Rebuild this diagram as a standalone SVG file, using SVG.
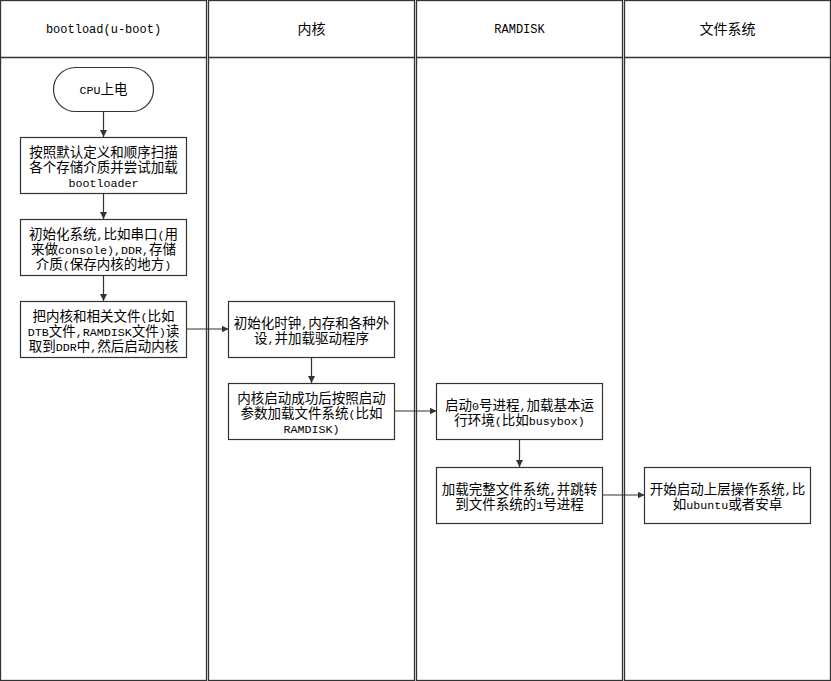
<svg xmlns="http://www.w3.org/2000/svg" width="831" height="681" viewBox="0 0 831 681">
<style>
.lane{fill:#fff;stroke:#333;stroke-width:1.3}
.box{fill:#fff;stroke:#333;stroke-width:1.2}
.t{font-family:"Noto Sans CJK SC","Noto Sans CJK TC",sans-serif;font-size:13.5px;fill:#000;text-anchor:middle}
.m{font-family:"Liberation Mono",monospace;font-size:11.7px}
.h{font-family:"Liberation Mono",monospace;font-size:12px;fill:#000;text-anchor:middle}
.hc{font-family:"Noto Sans CJK SC",sans-serif;font-size:14px;fill:#000;text-anchor:middle}
.c{fill:none;stroke:#333;stroke-width:1.2;marker-end:url(#ah)}
</style>
<defs>
<marker id="ah" markerWidth="8" markerHeight="8" refX="7" refY="4" orient="auto" markerUnits="userSpaceOnUse">
<path d="M0,0.5 L7,4 L0,7.5 Z" fill="#333"/>
</marker>
</defs>
<g id="lanes">
<g id="lane-bootload">
<rect class="lane" x="0.5" y="0.5" width="206" height="680"/>
<line x1="0.5" y1="57.5" x2="206.5" y2="57.5" stroke="#333" stroke-width="1.3"/>
<text class="h" x="103.5" y="33">bootload(u-boot)</text>
</g>
<g id="lane-kernel">
<rect class="lane" x="208.5" y="0.5" width="206" height="680"/>
<line x1="208.5" y1="57.5" x2="414.5" y2="57.5" stroke="#333" stroke-width="1.3"/>
<text class="hc" x="311.5" y="34">内核</text>
</g>
<g id="lane-ramdisk">
<rect class="lane" x="416.5" y="0.5" width="206" height="680"/>
<line x1="416.5" y1="57.5" x2="622.5" y2="57.5" stroke="#333" stroke-width="1.3"/>
<text class="h" x="519.5" y="33">RAMDISK</text>
</g>
<g id="lane-fs">
<rect class="lane" x="624.5" y="0.5" width="206" height="680"/>
<line x1="624.5" y1="57.5" x2="830.5" y2="57.5" stroke="#333" stroke-width="1.3"/>
<text class="hc" x="727.5" y="34">文件系统</text>
</g>
</g>
<g id="connectors">
<path class="c" d="M103.5,111 V137"/>
<path class="c" d="M103.5,193 V219"/>
<path class="c" d="M103.5,275 V301"/>
<path class="c" d="M186.5,329 H228.5"/>
<path class="c" d="M311.5,357 V383"/>
<path class="c" d="M394.5,411 H436.5"/>
<path class="c" d="M519.5,439 V467"/>
<path class="c" d="M602.5,495 H644.5"/>
</g>
<g id="n-cpu">
<rect class="box" x="53.5" y="67.5" width="100" height="44" rx="22" ry="22"/>
<text class="t" x="103.5" y="94"><tspan class="m">CPU</tspan>上电</text>
</g>
<g id="n-scan">
<rect class="box" x="20.5" y="137.5" width="166" height="56"/>
<text class="t" x="103.5" y="157">按照默认定义和顺序扫描</text>
<text class="t" x="103.5" y="172">各个存储介质并尝试加载</text>
<text class="t" x="103.5" y="187"><tspan class="m">bootloader</tspan></text>
</g>
<g id="n-init">
<rect class="box" x="20.5" y="219.5" width="166" height="56"/>
<text class="t" x="103.5" y="239">初始化系统<tspan class="m">,</tspan>比如串口<tspan class="m">(</tspan>用</text>
<text class="t" x="103.5" y="254">来做<tspan class="m">console),DDR,</tspan>存储</text>
<text class="t" x="103.5" y="269">介质<tspan class="m">(</tspan>保存内核的地方<tspan class="m">)</tspan></text>
</g>
<g id="n-load">
<rect class="box" x="20.5" y="301.5" width="166" height="56"/>
<text class="t" x="103.5" y="321">把内核和相关文件<tspan class="m">(</tspan>比如</text>
<text class="t" x="103.5" y="336"><tspan class="m">DTB</tspan>文件<tspan class="m">,RAMDISK</tspan>文件<tspan class="m">)</tspan>读</text>
<text class="t" x="103.5" y="351">取到<tspan class="m">DDR</tspan>中<tspan class="m">,</tspan>然后启动内核</text>
</g>
<g id="n-kinit">
<rect class="box" x="228.5" y="301.5" width="166" height="56"/>
<text class="t" x="311.5" y="328">初始化时钟<tspan class="m">,</tspan>内存和各种外</text>
<text class="t" x="311.5" y="343">设<tspan class="m">,</tspan>并加载驱动程序</text>
</g>
<g id="n-kfs">
<rect class="box" x="228.5" y="383.5" width="166" height="56"/>
<text class="t" x="311.5" y="403">内核启动成功后按照启动</text>
<text class="t" x="311.5" y="418">参数加载文件系统<tspan class="m">(</tspan>比如</text>
<text class="t" x="311.5" y="433"><tspan class="m">RAMDISK)</tspan></text>
</g>
<g id="n-proc0">
<rect class="box" x="436.5" y="383.5" width="166" height="56"/>
<text class="t" x="519.5" y="410">启动<tspan class="m">0</tspan>号进程<tspan class="m">,</tspan>加载基本运</text>
<text class="t" x="519.5" y="425">行环境<tspan class="m">(</tspan>比如<tspan class="m">busybox)</tspan></text>
</g>
<g id="n-fullfs">
<rect class="box" x="436.5" y="467.5" width="166" height="56"/>
<text class="t" x="519.5" y="494">加载完整文件系统<tspan class="m">,</tspan>并跳转</text>
<text class="t" x="519.5" y="509">到文件系统的<tspan class="m">1</tspan>号进程</text>
</g>
<g id="n-os">
<rect class="box" x="644.5" y="467.5" width="166" height="56"/>
<text class="t" x="727.5" y="494">开始启动上层操作系统<tspan class="m">,</tspan>比</text>
<text class="t" x="727.5" y="509">如<tspan class="m">ubuntu</tspan>或者安卓</text>
</g>
</svg>
